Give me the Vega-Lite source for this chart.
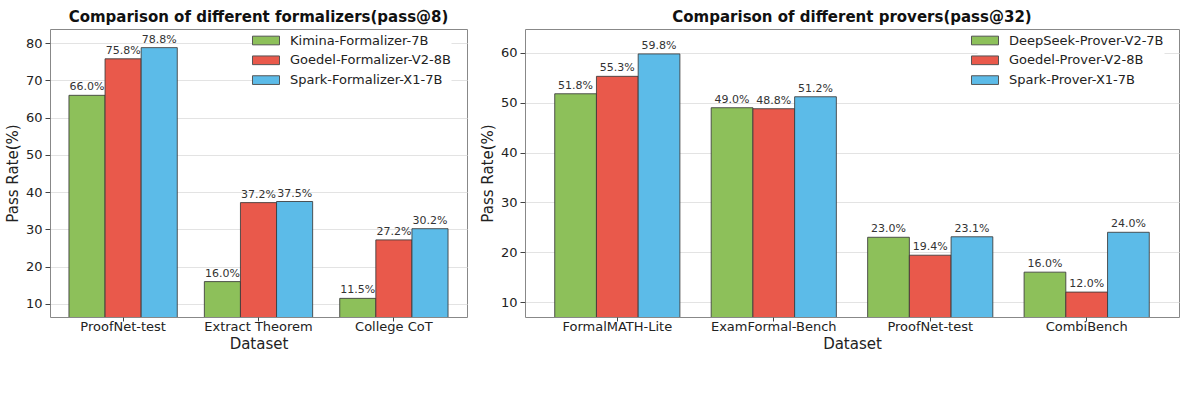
{
  "$schema": "https://vega.github.io/schema/vega-lite/v6.json",
  "background": "white",
  "padding": {"left": 4, "top": 9, "right": 5, "bottom": 5},
  "bounds": "flush",
  "spacing": 58,
  "config": {
    "font": "DejaVu Sans",
    "view": {"stroke": "#888888", "strokeWidth": 1},
    "axis": {"labelFont": "DejaVu Sans", "labelFontSize": 13, "labelColor": "#222222", "titleFont": "DejaVu Sans", "titleFontSize": 15, "titleFontWeight": "normal", "titleColor": "#222222", "tickColor": "#444444", "tickSize": 5, "domain": false},
    "axisY": {"grid": true, "gridColor": "#e3e3e3", "gridWidth": 1, "labelPadding": 3, "titlePadding": 5},
    "axisX": {"grid": false, "tickSize": 4, "labelPadding": -1, "titlePadding": 3, "labelAngle": 0},
    "title": {"fontSize": 15, "fontWeight": "bold", "font": "DejaVu Sans", "color": "#111111", "anchor": "middle", "offset": 0},
    "legend": {"title": null, "orient": "none", "symbolType": "M-1.93,-0.62H1.93V0.62H-1.93Z", "symbolSize": 196, "symbolStrokeColor": "#555555", "symbolStrokeWidth": 1, "labelFont": "DejaVu Sans", "labelFontSize": 13, "labelColor": "#222222", "labelOffset": 16.5, "labelLimit": 400, "rowPadding": 4.8, "fillColor": "white", "padding": 0, "symbolOpacity": 1}
  },
  "resolve": {"scale": {"color": "independent", "x": "independent", "xOffset": "independent", "y": "independent"}, "legend": {"color": "independent"}},
  "hconcat": [
    {
      "title": "Comparison of different formalizers(pass@8)",
      "width": 417,
      "height": 288,
      "data": {"values": [
        {"dataset": "ProofNet-test", "model": "Kimina-Formalizer-7B", "rate": 66.0, "label": "66.0%"},
        {"dataset": "ProofNet-test", "model": "Goedel-Formalizer-V2-8B", "rate": 75.8, "label": "75.8%"},
        {"dataset": "ProofNet-test", "model": "Spark-Formalizer-X1-7B", "rate": 78.8, "label": "78.8%"},
        {"dataset": "Extract Theorem", "model": "Kimina-Formalizer-7B", "rate": 16.0, "label": "16.0%"},
        {"dataset": "Extract Theorem", "model": "Goedel-Formalizer-V2-8B", "rate": 37.2, "label": "37.2%"},
        {"dataset": "Extract Theorem", "model": "Spark-Formalizer-X1-7B", "rate": 37.5, "label": "37.5%"},
        {"dataset": "College CoT", "model": "Kimina-Formalizer-7B", "rate": 11.5, "label": "11.5%"},
        {"dataset": "College CoT", "model": "Goedel-Formalizer-V2-8B", "rate": 27.2, "label": "27.2%"},
        {"dataset": "College CoT", "model": "Spark-Formalizer-X1-7B", "rate": 30.2, "label": "30.2%"}
      ]},
      "encoding": {
        "x": {"field": "dataset", "type": "nominal", "sort": ["ProofNet-test", "Extract Theorem", "College CoT"], "scale": {"type": "band", "paddingInner": 0.2, "paddingOuter": 0.14}, "axis": {"title": "Dataset"}},
        "xOffset": {"field": "model", "type": "nominal", "sort": ["Kimina-Formalizer-7B", "Goedel-Formalizer-V2-8B", "Spark-Formalizer-X1-7B"], "scale": {"type": "band", "paddingInner": 0, "paddingOuter": 0}},
        "y": {"field": "rate", "type": "quantitative", "scale": {"domain": [6.5, 83.8], "nice": false, "zero": false}, "axis": {"title": "Pass Rate(%)", "values": [10, 20, 30, 40, 50, 60, 70, 80]}}
      },
      "layer": [
        {
          "mark": {"type": "bar", "clip": true, "stroke": "#3a3a3a", "strokeWidth": 1, "strokeOpacity": 0.85},
          "encoding": {
            "color": {"field": "model", "type": "nominal", "sort": ["Kimina-Formalizer-7B", "Goedel-Formalizer-V2-8B", "Spark-Formalizer-X1-7B"], "scale": {"domain": ["Kimina-Formalizer-7B", "Goedel-Formalizer-V2-8B", "Spark-Formalizer-X1-7B"], "range": ["#8DC05A", "#E9594B", "#5CBBE8"]}, "legend": {"legendX": 208.5, "legendY": 4}}
          }
        },
        {
          "mark": {"type": "text", "baseline": "bottom", "dy": -3, "fontSize": 11, "color": "#333333"},
          "encoding": {"text": {"field": "label", "type": "nominal"}}
        }
      ]
    },
    {
      "title": "Comparison of different provers(pass@32)",
      "width": 654,
      "height": 288,
      "data": {"values": [
        {"dataset": "FormalMATH-Lite", "model": "DeepSeek-Prover-V2-7B", "rate": 51.8, "label": "51.8%"},
        {"dataset": "FormalMATH-Lite", "model": "Goedel-Prover-V2-8B", "rate": 55.3, "label": "55.3%"},
        {"dataset": "FormalMATH-Lite", "model": "Spark-Prover-X1-7B", "rate": 59.8, "label": "59.8%"},
        {"dataset": "ExamFormal-Bench", "model": "DeepSeek-Prover-V2-7B", "rate": 49.0, "label": "49.0%"},
        {"dataset": "ExamFormal-Bench", "model": "Goedel-Prover-V2-8B", "rate": 48.8, "label": "48.8%"},
        {"dataset": "ExamFormal-Bench", "model": "Spark-Prover-X1-7B", "rate": 51.2, "label": "51.2%"},
        {"dataset": "ProofNet-test", "model": "DeepSeek-Prover-V2-7B", "rate": 23.0, "label": "23.0%"},
        {"dataset": "ProofNet-test", "model": "Goedel-Prover-V2-8B", "rate": 19.4, "label": "19.4%"},
        {"dataset": "ProofNet-test", "model": "Spark-Prover-X1-7B", "rate": 23.1, "label": "23.1%"},
        {"dataset": "CombiBench", "model": "DeepSeek-Prover-V2-7B", "rate": 16.0, "label": "16.0%"},
        {"dataset": "CombiBench", "model": "Goedel-Prover-V2-8B", "rate": 12.0, "label": "12.0%"},
        {"dataset": "CombiBench", "model": "Spark-Prover-X1-7B", "rate": 24.0, "label": "24.0%"}
      ]},
      "encoding": {
        "x": {"field": "dataset", "type": "nominal", "sort": ["FormalMATH-Lite", "ExamFormal-Bench", "ProofNet-test", "CombiBench"], "scale": {"type": "band", "paddingInner": 0.2, "paddingOuter": 0.19}, "axis": {"title": "Dataset"}},
        "xOffset": {"field": "model", "type": "nominal", "sort": ["DeepSeek-Prover-V2-7B", "Goedel-Prover-V2-8B", "Spark-Prover-X1-7B"], "scale": {"type": "band", "paddingInner": 0, "paddingOuter": 0}},
        "y": {"field": "rate", "type": "quantitative", "scale": {"domain": [7.0, 64.8], "nice": false, "zero": false}, "axis": {"title": "Pass Rate(%)", "values": [10, 20, 30, 40, 50, 60]}}
      },
      "layer": [
        {
          "mark": {"type": "bar", "clip": true, "stroke": "#3a3a3a", "strokeWidth": 1, "strokeOpacity": 0.85},
          "encoding": {
            "color": {"field": "model", "type": "nominal", "sort": ["DeepSeek-Prover-V2-7B", "Goedel-Prover-V2-8B", "Spark-Prover-X1-7B"], "scale": {"domain": ["DeepSeek-Prover-V2-7B", "Goedel-Prover-V2-8B", "Spark-Prover-X1-7B"], "range": ["#8DC05A", "#E9594B", "#5CBBE8"]}, "legend": {"legendX": 452.5, "legendY": 4}}
          }
        },
        {
          "mark": {"type": "text", "baseline": "bottom", "dy": -3, "fontSize": 11, "color": "#333333"},
          "encoding": {"text": {"field": "label", "type": "nominal"}}
        }
      ]
    }
  ]
}
